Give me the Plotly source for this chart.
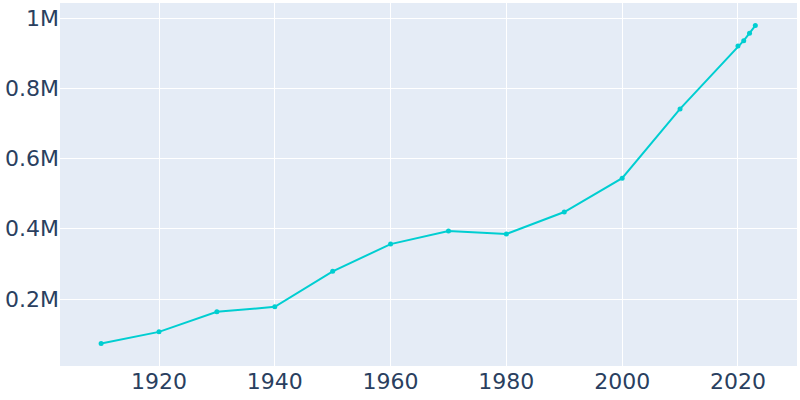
import plotly.graph_objects as go

years = [1910, 1920, 1930, 1940, 1950, 1960, 1970, 1980, 1990, 2000, 2010, 2020, 2021, 2022, 2023]
population = [73312, 106482, 163447, 177662, 278778, 356268, 393476, 385164, 447619, 544000, 741206, 920000, 935508, 956709, 978468]

fig = go.Figure(go.Scatter(
    x=years, y=population, mode="lines+markers",
    line=dict(color="#00CED1", width=2),
    marker=dict(size=5, color="#00CED1"),
))
fig.update_layout(
    template="plotly",
    width=800, height=400,
    margin=dict(l=60, r=3, t=3, b=34),
    font=dict(family="DejaVu Sans", size=22, color="#2a3f5f"),
    showlegend=False,
    plot_bgcolor="#E5ECF6",
    paper_bgcolor="white",
)
fig.update_xaxes(range=[1902.9, 2030.2], tickvals=[1920, 1940, 1960, 1980, 2000, 2020], gridcolor="white", zeroline=False)
fig.update_yaxes(range=[9300, 1042700], tickvals=[200000, 400000, 600000, 800000, 1000000],
                 ticktext=["0.2M", "0.4M", "0.6M", "0.8M", "1M"], gridcolor="white", zeroline=False)
fig.write_html("out.html")
